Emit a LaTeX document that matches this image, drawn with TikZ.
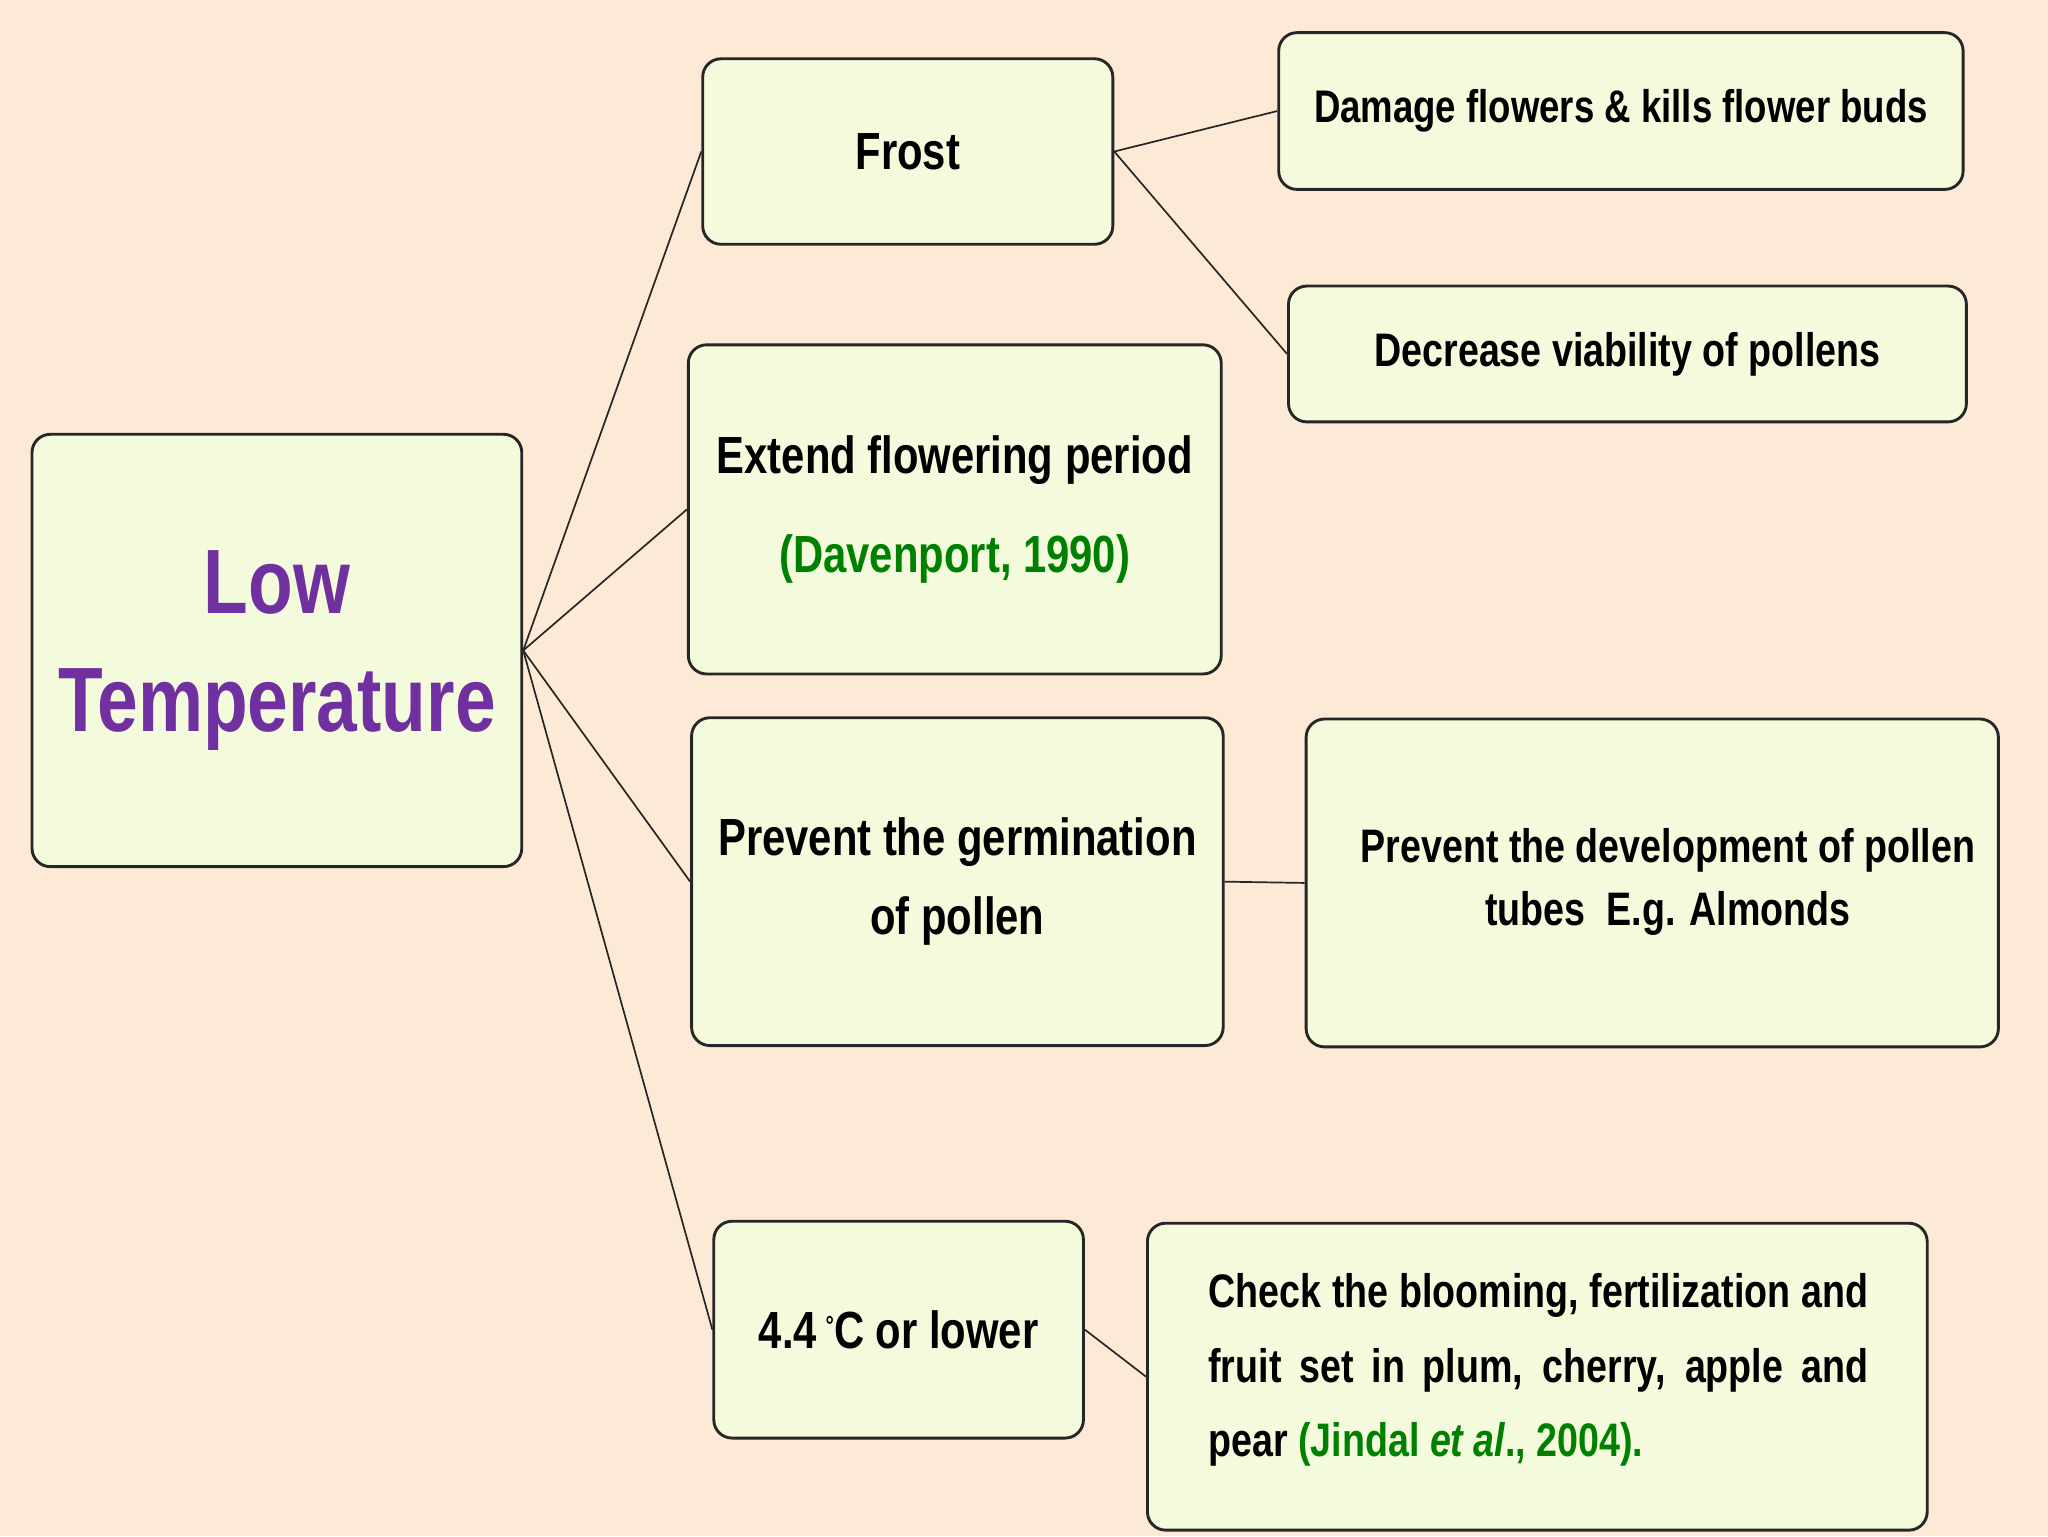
\documentclass[tikz,border=0pt]{standalone}
\usepackage{fontspec}
\setmainfont{Liberation Sans}[FakeStretch=0.8]
\definecolor{bg}{RGB}{252,234,214}
\definecolor{boxfill}{RGB}{244,250,220}
\definecolor{purp}{RGB}{112,48,160}
\definecolor{grn}{RGB}{0,128,0}
\begin{document}
\begin{tikzpicture}[x=1pt,y=-1pt,
  box/.style={draw=black!85,line width=2.2pt,rounded corners=14pt,fill=boxfill,inner sep=0pt,align=center,font=\bfseries\fontsize{40}{48}\selectfont},
  conn/.style={line width=1.3pt,black!85}]
\fill[bg] (0,0) rectangle (1568,1176);
\useasboundingbox (0,0) rectangle (1568,1176);
\node[box,minimum width=375,minimum height=331,font=\bfseries\fontsize{70}{90}\selectfont,text=purp] (lt) at (212,498) {Low\\Temperature};
\node[box,minimum width=314,minimum height=142] (fr) at (695,116) {Frost};
\node[box,minimum width=524,minimum height=120,font=\bfseries\fontsize{35}{44}\selectfont] (dm) at (1241,85) {Damage flowers \& kills flower buds};
\node[box,minimum width=519,minimum height=104,font=\bfseries\fontsize{36}{44}\selectfont] (dv) at (1246,271) {Decrease viability of pollens};
\node[box,minimum width=408,minimum height=252,font=\bfseries\fontsize{40}{76}\selectfont] (ex) at (731,390) {Extend flowering period\\\textcolor{grn}{(Davenport, 1990)}};
\node[box,minimum width=407,minimum height=251,font=\bfseries\fontsize{40}{60}\selectfont] (pg) at (733,675) {Prevent the germination\\of pollen};
\node[box,minimum width=530,minimum height=251] (pd) at (1265,676) {};
\node[font=\bfseries\fontsize{36}{48}\selectfont,align=center,inner sep=0pt] (pdt) at (1277,675) {Prevent the development of pollen\\tubes\ \ E.g. Almonds};
\node[box,minimum width=283,minimum height=166] (tc) at (688,1018) {4.4\,\raisebox{0.5ex}{\fontsize{20}{20}\selectfont°}C or lower};
\node[box,minimum width=597,minimum height=235] (ck) at (1177,1054) {};
\node[text width=505,align=justify,font=\bfseries\fontsize{36}{57}\selectfont,inner sep=0pt,anchor=north west] (ckt) at (925,975) {Check the blooming, fertilization and fruit set in plum, cherry, apple and pear \textcolor{grn}{(Jindal \textit{et al}., 2004).}};
\draw[conn] (lt.east) -- (fr.west);
\draw[conn] (lt.east) -- (ex.west);
\draw[conn] (lt.east) -- (pg.west);
\draw[conn] (lt.east) -- (tc.west);
\draw[conn] (fr.east) -- (dm.west);
\draw[conn] (fr.east) -- (dv.west);
\draw[conn] (pg.east) -- (pd.west);
\draw[conn] (tc.east) -- (ck.west);
\end{tikzpicture}
\end{document}
